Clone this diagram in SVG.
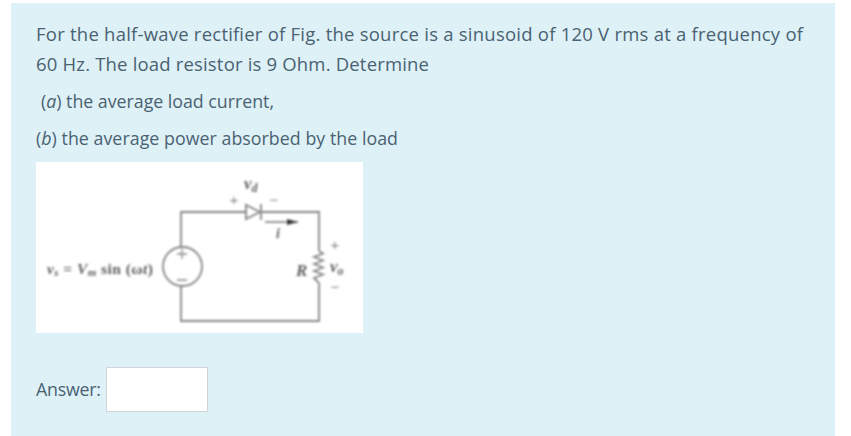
<svg xmlns="http://www.w3.org/2000/svg" width="851" height="436" viewBox="0 0 851 436">
<defs><filter id="b" x="-5%" y="-5%" width="110%" height="110%"><feGaussianBlur stdDeviation="0.8"/></filter>
<marker id="ah" markerWidth="12" markerHeight="6" refX="11" refY="3" orient="auto" markerUnits="userSpaceOnUse"><path d="M0 0L11 3L0 6z" fill="#333"/></marker></defs>
<style>
.t{font-family:"Open Sans","Noto Sans",sans-serif;font-size:18.5px;fill:#4a6272}
.u{font-size:17.800px}
.w{fill:none;stroke:#858585;stroke-width:1.8}
.c{font-family:"Liberation Serif",serif;fill:#5f5f5f}
.s{font-family:"Liberation Sans",sans-serif;fill:#888;font-size:15px;text-anchor:middle}
</style>
<rect width="851" height="436" fill="#fff"/>
<rect x="11" y="3" width="824" height="433" fill="#def1f7"/>
<g id="question">
<text class="t" x="36" y="41" textLength="767">For the half-wave rectifier of Fig. the source is a sinusoid of 120 V rms at a frequency of</text>
<text class="t" x="36" y="71" textLength="393">60 Hz. The load resistor is 9 Ohm. Determine</text>
<text class="t u" x="41" y="108" textLength="233">(<tspan font-style="italic">a</tspan>) the average load current,</text>
<text class="t u" x="36" y="145" textLength="362">(<tspan font-style="italic">b</tspan>) the average power absorbed by the load</text>
</g>
<g id="figure"><rect x="36" y="162" width="327" height="171" fill="#fff"/></g>
<g filter="url(#b)">
<g id="connectors">
<path class="w" d="M181 248V212H246M262 212H319V251M319 283V321H181V286"/>
<path d="M265 222H298" stroke="#777" stroke-width="1.4" fill="none" marker-end="url(#ah)"/>
</g>
<g id="source"><circle class="w" cx="182.500" cy="266.500" r="19.500"/>
<path d="M177 254H187M182 249V259M177 280H187" stroke="#888" stroke-width="1.300"/></g>
<g id="diode"><path class="w" d="M246 205V219L260 212zM261 204V220"/></g>
<g id="resistor"><path class="w" d="M319 251L323 253.500L314 257L323 260.500L314 264L323 267.500L314 271L323 274.500L314 278L319 283"/></g>
<g id="labels">
<text class="c" x="244" y="189" font-size="17" font-style="italic" font-weight="bold">v<tspan font-size="12" dy="3">d</tspan></text>
<text class="s" x="234" y="205">+</text><text class="s" x="274" y="205">−</text>
<text class="c" x="276" y="238" font-size="14" font-style="italic" font-weight="bold">i</text>
<text class="s" x="335" y="250">+</text><text class="s" x="335" y="292">−</text>
<text class="c" x="296" y="276" font-size="17" font-style="italic" font-weight="bold">R</text>
<text class="c" x="330" y="272" font-size="17" font-style="italic" font-weight="bold">v<tspan font-size="12" dy="3">o</tspan></text>
<text class="c" x="47" y="274" font-size="15.500" font-weight="bold" textLength="106"><tspan font-style="italic">v</tspan><tspan font-style="italic" font-size="11" dy="2">s</tspan><tspan dy="-2"> = </tspan><tspan font-style="italic">V</tspan><tspan font-style="italic" font-size="11" dy="2">m</tspan><tspan dy="-2"> sin (ω</tspan><tspan font-style="italic">t</tspan>)</text>
</g>
</g>
<g id="answer">
<text class="t u" x="36" y="396" textLength="65">Answer:</text>
<rect x="106.500" y="367.500" width="101" height="44" fill="#fff" stroke="#ced4da"/>
</g>
</svg>
